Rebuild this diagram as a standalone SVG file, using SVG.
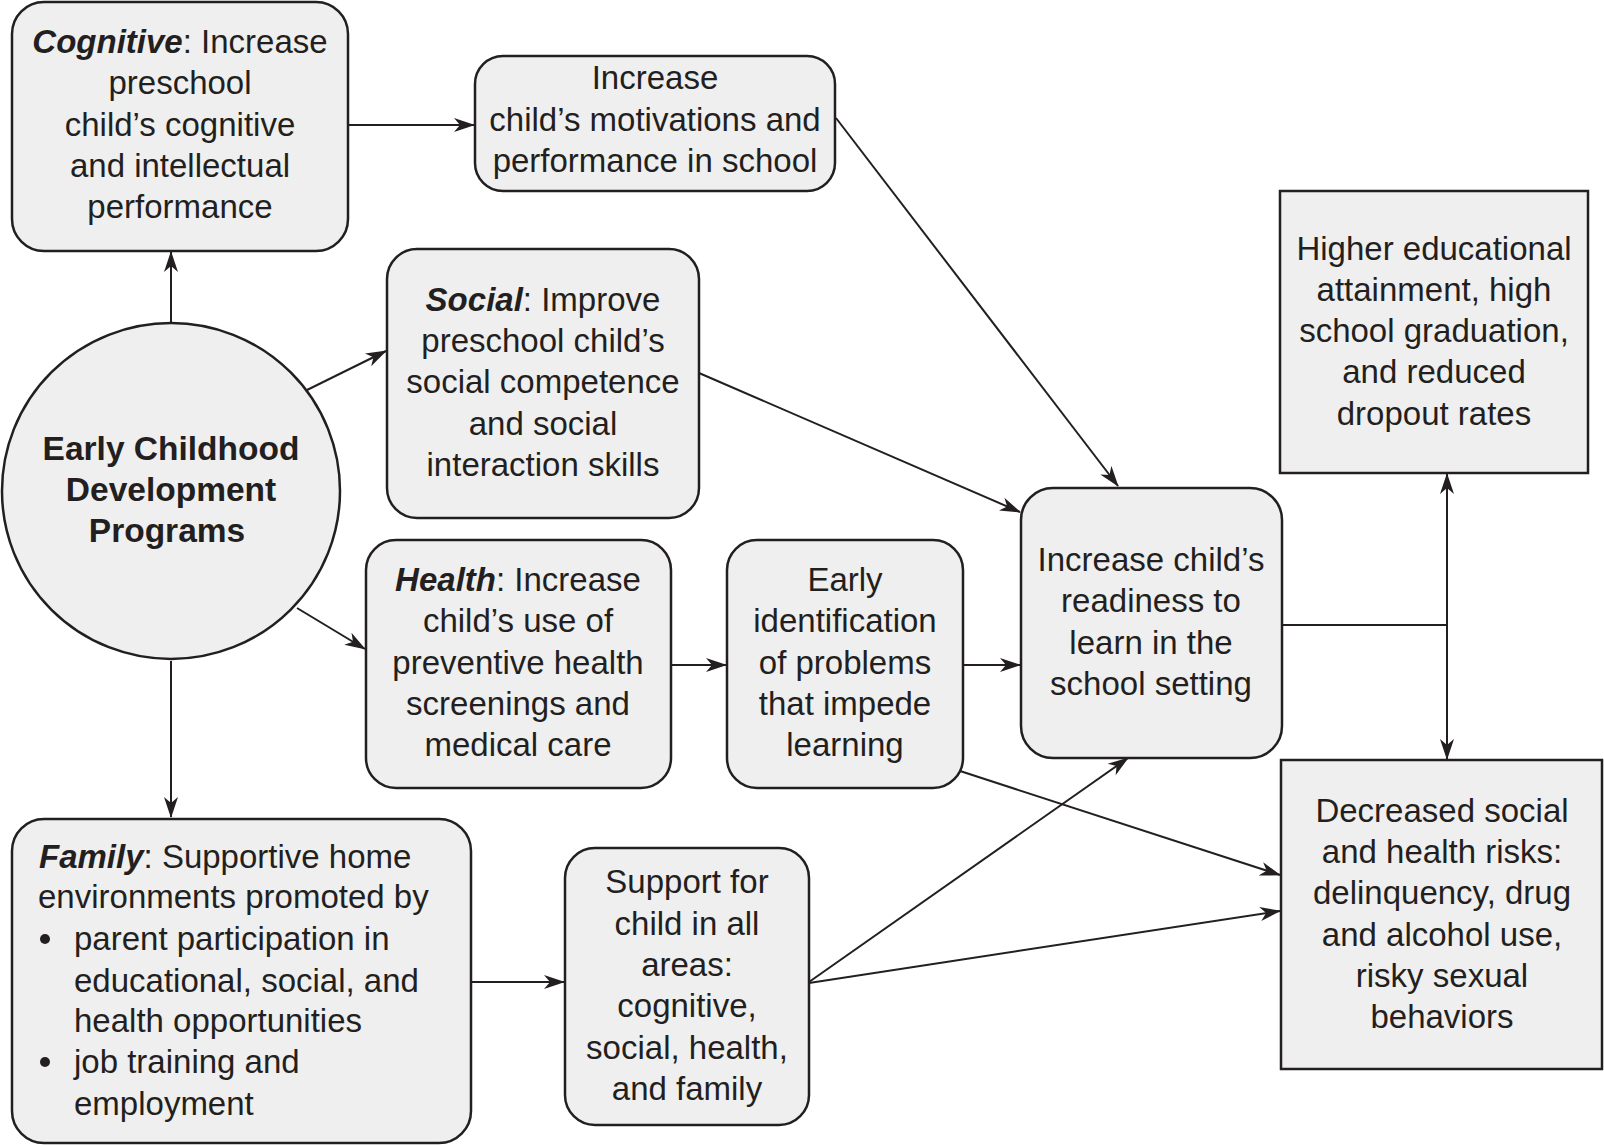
<svg xmlns="http://www.w3.org/2000/svg" width="1604" height="1145" viewBox="0 0 1604 1145">
<style>
.box{fill:#efefef;stroke:#231f20;stroke-width:2.5}
.t{font-family:"Liberation Sans",Arial,sans-serif;font-size:33px;fill:#231f20;text-anchor:middle}
.l{text-anchor:start}
.bi{font-weight:bold;font-style:italic}
.b{font-weight:bold;font-size:33.5px}
.c{stroke:#231f20;stroke-width:2;fill:none}
</style>
<defs>
<marker id="ah" markerWidth="22" markerHeight="16" refX="20" refY="8" orient="auto" markerUnits="userSpaceOnUse">
<path d="M0,1 L21,8 L0,15 L6,8 Z" fill="#231f20"/>
</marker>
</defs>
<rect width="1604" height="1145" fill="#ffffff"/>

<g id="connectors">
<line class="c" x1="171" y1="322" x2="171" y2="252" marker-end="url(#ah)"/>
<line class="c" x1="348" y1="125" x2="474" y2="125" marker-end="url(#ah)"/>
<line class="c" x1="836" y1="118" x2="1118" y2="486" marker-end="url(#ah)"/>
<line class="c" x1="307" y1="390" x2="386" y2="351" marker-end="url(#ah)"/>
<line class="c" x1="699" y1="373" x2="1020" y2="512" marker-end="url(#ah)"/>
<line class="c" x1="297" y1="608" x2="365" y2="649" marker-end="url(#ah)"/>
<line class="c" x1="671" y1="665" x2="726" y2="665" marker-end="url(#ah)"/>
<line class="c" x1="963" y1="665" x2="1020" y2="665" marker-end="url(#ah)"/>
<line class="c" x1="171" y1="661" x2="171" y2="817" marker-end="url(#ah)"/>
<line class="c" x1="471" y1="982" x2="564" y2="982" marker-end="url(#ah)"/>
<line class="c" x1="809" y1="982" x2="1128" y2="758" marker-end="url(#ah)"/>
<line class="c" x1="809" y1="983" x2="1280" y2="911" marker-end="url(#ah)"/>
<line class="c" x1="957" y1="770" x2="1280" y2="875" marker-end="url(#ah)"/>
<polyline class="c" points="1282,625 1447,625"/>
<line class="c" x1="1447" y1="625" x2="1447" y2="474" marker-end="url(#ah)"/>
<line class="c" x1="1447" y1="625" x2="1447" y2="759" marker-end="url(#ah)"/>
</g>

<g id="cognitive">
<rect class="box" x="12" y="2" width="336" height="249" rx="32"/>
<text class="t" x="180" y="53"><tspan class="bi">Cognitive</tspan>: Increase</text>
<text class="t" x="180" y="94">preschool</text>
<text class="t" x="180" y="136">child’s cognitive</text>
<text class="t" x="180" y="177">and intellectual</text>
<text class="t" x="180" y="218">performance</text>
</g>

<g id="motivation">
<rect class="box" x="475" y="56" width="360" height="135" rx="28"/>
<text class="t" x="655" y="89">Increase</text>
<text class="t" x="655" y="131">child’s motivations and</text>
<text class="t" x="655" y="172">performance in school</text>
</g>

<g id="programs">
<ellipse class="box" cx="171" cy="491" rx="169" ry="168"/>
<text class="t b" x="171" y="460">Early Childhood</text>
<text class="t b" x="171" y="501">Development</text>
<text class="t b" x="167" y="542">Programs</text>
</g>

<g id="social">
<rect class="box" x="387" y="249" width="312" height="269" rx="30"/>
<text class="t" x="543" y="311"><tspan class="bi">Social</tspan>: Improve</text>
<text class="t" x="543" y="352">preschool child’s</text>
<text class="t" x="543" y="393">social competence</text>
<text class="t" x="543" y="435">and social</text>
<text class="t" x="543" y="476">interaction skills</text>
</g>

<g id="health">
<rect class="box" x="366" y="540" width="305" height="248" rx="30"/>
<text class="t" x="518" y="591"><tspan class="bi">Health</tspan>: Increase</text>
<text class="t" x="518" y="632">child’s use of</text>
<text class="t" x="518" y="674">preventive health</text>
<text class="t" x="518" y="715">screenings and</text>
<text class="t" x="518" y="756">medical care</text>
</g>

<g id="early-identification">
<rect class="box" x="727" y="540" width="236" height="248" rx="30"/>
<text class="t" x="845" y="591">Early</text>
<text class="t" x="845" y="632">identification</text>
<text class="t" x="845" y="674">of problems</text>
<text class="t" x="845" y="715">that impede</text>
<text class="t" x="845" y="756">learning</text>
</g>

<g id="readiness">
<rect class="box" x="1021" y="488" width="261" height="270" rx="32"/>
<text class="t" x="1151" y="571">Increase child’s</text>
<text class="t" x="1151" y="612">readiness to</text>
<text class="t" x="1151" y="654">learn in the</text>
<text class="t" x="1151" y="695">school setting</text>
</g>

<g id="higher-education">
<rect class="box" x="1280" y="191" width="308" height="282"/>
<text class="t" x="1434" y="260">Higher educational</text>
<text class="t" x="1434" y="301">attainment, high</text>
<text class="t" x="1434" y="342">school graduation,</text>
<text class="t" x="1434" y="383">and reduced</text>
<text class="t" x="1434" y="425">dropout rates</text>
</g>

<g id="decreased-risks">
<rect class="box" x="1281" y="760" width="321" height="309"/>
<text class="t" x="1442" y="822">Decreased social</text>
<text class="t" x="1442" y="863">and health risks:</text>
<text class="t" x="1442" y="904">delinquency, drug</text>
<text class="t" x="1442" y="946">and alcohol use,</text>
<text class="t" x="1442" y="987">risky sexual</text>
<text class="t" x="1442" y="1028">behaviors</text>
</g>

<g id="family">
<rect class="box" x="12" y="819" width="459" height="324" rx="32"/>
<text class="t l" x="39" y="868"><tspan class="bi">Family</tspan>: Supportive home</text>
<text class="t l" x="38" y="908">environments promoted by</text>
<circle cx="45" cy="939" r="5" fill="#231f20"/>
<text class="t l" x="74" y="950">parent participation in</text>
<text class="t l" x="74" y="992">educational, social, and</text>
<text class="t l" x="74" y="1032">health opportunities</text>
<circle cx="45" cy="1062" r="5" fill="#231f20"/>
<text class="t l" x="74" y="1073">job training and</text>
<text class="t l" x="74" y="1115">employment</text>
</g>

<g id="support">
<rect class="box" x="565" y="848" width="244" height="277" rx="30"/>
<text class="t" x="687" y="893">Support for</text>
<text class="t" x="687" y="935">child in all</text>
<text class="t" x="687" y="976">areas:</text>
<text class="t" x="687" y="1017">cognitive,</text>
<text class="t" x="687" y="1059">social, health,</text>
<text class="t" x="687" y="1100">and family</text>
</g>
</svg>
